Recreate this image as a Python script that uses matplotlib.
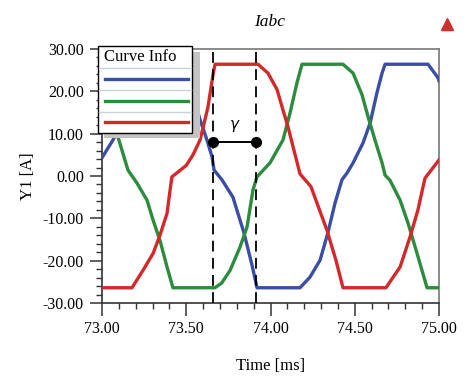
import numpy as np
from matplotlib import pyplot as plt
from matplotlib.patches import Rectangle
from matplotlib.ticker import MultipleLocator, FormatStrFormatter

plt.rcParams['font.family'] = ['Liberation Serif', 'DejaVu Serif']
plt.rcParams['axes.unicode_minus'] = False

# phase currents (time in ms, current in A)
t_a = [73.00, 73.065, 73.095, 73.13, 73.158, 73.173, 73.428, 73.487, 73.534, 73.582,
       73.623, 73.653, 73.665, 73.712, 73.777, 73.843, 73.890, 73.920, 74.175, 74.234,
       74.294, 74.340, 74.383, 74.424, 74.454, 74.490, 74.549, 74.591, 74.632, 74.662,
       74.680, 74.935, 74.994, 75.00]
i_a = [4.3, 8.5, 10.9, 18.5, 24.3, 26.4, 26.4, 24.3, 19.7, 13.3,
       8.5, 4.5, 1.4, -0.9, -5.0, -13.5, -21.0, -26.4, -26.4, -23.9,
       -19.9, -13.5, -6.4, -0.9, 0.7, 3.1, 7.8, 12.5, 19.7, 24.3,
       26.4, 26.4, 23.2, 22.5]

t_b = [73.00, 73.04, 73.095, 73.154, 73.208, 73.267, 73.303, 73.344, 73.386, 73.421,
       73.67, 73.71, 73.760, 73.819, 73.861, 73.896, 73.920, 73.997, 74.074, 74.116,
       74.157, 74.187, 74.430, 74.490, 74.543, 74.579, 74.620, 74.662, 74.680, 74.709,
       74.769, 74.816, 74.869, 74.929, 75.00]
i_b = [22.5, 18.0, 9.2, 1.4, -1.7, -5.7, -10.4, -15.2, -21.5, -26.4,
       -26.4, -25.3, -22.3, -16.8, -12.0, -3.3, -0.2, 3.1, 8.5, 14.9,
       22.0, 26.4, 26.4, 24.3, 19.2, 14.0, 8.5, 3.1, 0.2, -1.0,
       -5.7, -11.1, -18.2, -26.4, -26.4]

t_c = [73.00, 73.178, 73.243, 73.303, 73.344, 73.386, 73.404, 73.415, 73.50, 73.540,
       73.582, 73.629, 73.659, 73.671, 73.926, 73.985, 74.039, 74.074, 74.104, 74.134,
       74.175, 74.240, 74.335, 74.389, 74.430, 74.685, 74.769, 74.828, 74.875, 74.905,
       74.917, 75.00]
i_c = [-26.4, -26.4, -22.3, -18.3, -14.0, -8.8, -3.3, -0.2, 2.5, 5.0,
       8.5, 16.3, 24.0, 26.4, 26.4, 24.3, 20.4, 15.6, 11.6, 6.9,
       0.5, -2.5, -12.8, -20.0, -26.4, -26.4, -21.5, -14.4, -8.0, -2.6,
       -0.5, 3.8]

# commutation interval marks
gamma_t = [73.66, 73.915]
gamma_i = 8.0

colors = ['#3a4ea6', '#2b8c3c', '#d4292b']

W, H = 474, 389
fig = plt.figure(figsize=(W / 100, H / 100), dpi=100)
ax = fig.add_axes([102 / W, (H - 303) / H, 337 / W, 254 / H])

for t, i, c in zip([t_a, t_b, t_c], [i_a, i_b, i_c], colors):
    ax.plot(t, i, color=c, lw=2.4, solid_joinstyle='round', zorder=3)

for tg in gamma_t:
    ax.axvline(tg, color='black', lw=1.3, ls=(0, (6, 3.5)), zorder=4)
ax.plot(gamma_t, [gamma_i, gamma_i], color='black', lw=1.4, marker='o', ms=7, zorder=5)
ax.text(np.mean(gamma_t), gamma_i + 2.0, r'$\gamma$', ha='center', va='bottom', fontsize=11)

ax.set_xlim(73, 75)
ax.set_ylim(-30, 30)
ax.xaxis.set_major_locator(MultipleLocator(0.5))
ax.xaxis.set_minor_locator(MultipleLocator(0.1))
ax.yaxis.set_major_locator(MultipleLocator(10))
ax.yaxis.set_minor_locator(MultipleLocator(2))
ax.xaxis.set_major_formatter(FormatStrFormatter('%.2f'))
ax.yaxis.set_major_formatter(FormatStrFormatter('%.2f'))
ax.tick_params(which='major', direction='out', length=9, width=1.1, color='#333333',
               labelsize=11.5, pad=4)
ax.tick_params(which='minor', direction='out', length=4, width=1.0, color='#333333')
for s in ['left', 'bottom']:
    ax.spines[s].set_color('#333333')
    ax.spines[s].set_linewidth(1.2)
for s in ['top', 'right']:
    ax.spines[s].set_color('#777777')
    ax.spines[s].set_linewidth(1.2)

ax.set_xlabel('Time [ms]', fontsize=12, labelpad=15)
ax.set_ylabel('Y1 [A]', fontsize=12, labelpad=5)

# title and marker in pixel coordinates of the figure
ov = fig.add_axes([0, 0, 1, 1], facecolor='none')
ov.set_xlim(0, W)
ov.set_ylim(H, 0)
ov.axis('off')
ov.text(270, 22, 'Iabc', style='italic', fontsize=12.5, ha='center', va='center')
ov.plot([447], [24], marker='^', color='#d0302c', ms=9, ls='none')

# "Curve Info" box
ov.add_patch(Rectangle((104, 52), 96, 86, facecolor='#c4c4c4', edgecolor='none', zorder=1))
ov.add_patch(Rectangle((98, 46), 94, 87, facecolor='white', edgecolor='black', lw=1.0, zorder=2))
ov.text(104, 57, 'Curve Info', fontsize=12, ha='left', va='center', zorder=3)
for ysep in [68, 90, 112]:
    ov.plot([99, 191], [ysep, ysep], color='#c9d1dd', lw=1.0, zorder=3)
for yl, c in zip([79, 101, 122], colors):
    ov.plot([105, 188], [yl, yl], color=c, lw=2.4, zorder=3)

fig.savefig('out.png', dpi=100)
